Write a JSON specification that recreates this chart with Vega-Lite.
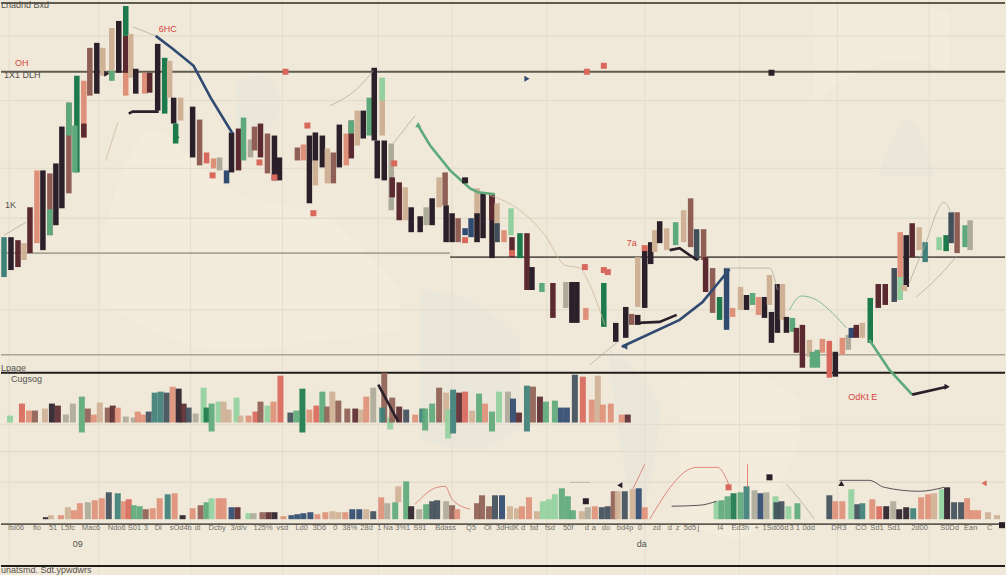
{
  "$schema": "https://vega.github.io/schema/vega-lite/v6.json",
  "description": "Candlestick chart with two volume strips, faded paper background.",
  "width": 1006,
  "height": 575,
  "padding": 0,
  "autosize": {"type": "fit", "contains": "padding"},
  "background": "#f0e9da",
  "config": {"view": {"stroke": null}},
  "datasets": {
    "patches": [
      {"id": "a", "kind": "cream", "t": 100, "low": 275, "high": 335},
      {"id": "a", "kind": "cream", "t": 150, "low": 245, "high": 445},
      {"id": "a", "kind": "cream", "t": 230, "low": 225, "high": 385},
      {"id": "a", "kind": "cream", "t": 330, "low": 235, "high": 355},
      {"id": "a", "kind": "cream", "t": 400, "low": 245, "high": 285},
      {"id": "b", "kind": "shade", "t": 420, "low": 135, "high": 285},
      {"id": "b", "kind": "shade", "t": 470, "low": 125, "high": 275},
      {"id": "b", "kind": "shade", "t": 520, "low": 145, "high": 235},
      {"id": "c", "kind": "cream", "t": 680, "low": 55, "high": 195},
      {"id": "c", "kind": "cream", "t": 740, "low": 35, "high": 205},
      {"id": "c", "kind": "cream", "t": 800, "low": 135, "high": 175},
      {"id": "d", "kind": "cream", "t": 815, "low": 475, "high": 570},
      {"id": "d", "kind": "cream", "t": 900, "low": 515, "high": 570},
      {"id": "d", "kind": "cream", "t": 950, "low": 505, "high": 565},
      {"id": "e", "kind": "shade", "t": 880, "low": 400, "high": 405},
      {"id": "e", "kind": "shade", "t": 910, "low": 400, "high": 455},
      {"id": "e", "kind": "shade", "t": 935, "low": 400, "high": 405},
      {"id": "f", "kind": "shade", "t": 235, "low": 445, "high": 495},
      {"id": "f", "kind": "shade", "t": 262, "low": 445, "high": 500},
      {"id": "f", "kind": "shade", "t": 280, "low": 465, "high": 480},
      {"id": "g", "kind": "shade", "t": 610, "low": 205, "high": 225},
      {"id": "g", "kind": "shade", "t": 640, "low": 60, "high": 200},
      {"id": "g", "kind": "shade", "t": 660, "low": 150, "high": 170}
    ],
    "gridX": [
      {"t": 8}, {"t": 98}, {"t": 190}, {"t": 282}, {"t": 378}, {"t": 452},
      {"t": 547}, {"t": 645}, {"t": 740}, {"t": 838}, {"t": 930}
    ],
    "levels": [
      {"from": 0, "to": 1006, "price": 573, "kind": "mid"},
      {"from": 0, "to": 1006, "price": 540, "kind": "faint"},
      {"from": 0, "to": 1006, "price": 504, "kind": "mid"},
      {"from": 0, "to": 1006, "price": 475, "kind": "faint"},
      {"from": 0, "to": 1006, "price": 407, "kind": "faint"},
      {"from": 0, "to": 1006, "price": 357, "kind": "faint"},
      {"from": 0, "to": 450, "price": 322, "kind": "soft"},
      {"from": 450, "to": 1006, "price": 318, "kind": "mid"},
      {"from": 0, "to": 1006, "price": 265, "kind": "faint"},
      {"from": 0, "to": 1006, "price": 220, "kind": "soft"},
      {"from": 0, "to": 1006, "price": 202, "kind": "heavy"},
      {"from": 0, "to": 1006, "price": 150, "kind": "faint"},
      {"from": 0, "to": 1006, "price": 123, "kind": "faint"},
      {"from": 0, "to": 1006, "price": 92, "kind": "faint"},
      {"from": 0, "to": 1006, "price": 50, "kind": "mid"},
      {"from": 0, "to": 1006, "price": 8, "kind": "heavy"}
    ],
    "volume": [
      {"t": 9, "top": 159, "base": 152, "kind": "ltgreen"},
      {"t": 21, "top": 171, "base": 152, "kind": "red"},
      {"t": 28, "top": 164, "base": 152, "kind": "salmon"},
      {"t": 34, "top": 164, "base": 152, "kind": "brown"},
      {"t": 44, "top": 166, "base": 152, "kind": "tan"},
      {"t": 51, "top": 171, "base": 152, "kind": "dark"},
      {"t": 57, "top": 169, "base": 152, "kind": "maroon"},
      {"t": 65, "top": 160, "base": 152, "kind": "gray"},
      {"t": 72, "top": 171, "base": 152, "kind": "gray"},
      {"t": 81, "top": 178, "base": 142, "kind": "green"},
      {"t": 87, "top": 166, "base": 152, "kind": "brown"},
      {"t": 93, "top": 160, "base": 152, "kind": "salmon"},
      {"t": 99, "top": 172, "base": 152, "kind": "tan"},
      {"t": 107, "top": 167, "base": 152, "kind": "brown"},
      {"t": 112, "top": 169, "base": 152, "kind": "maroon"},
      {"t": 117, "top": 167, "base": 152, "kind": "salmon"},
      {"t": 125, "top": 158, "base": 152, "kind": "gray"},
      {"t": 133, "top": 157, "base": 152, "kind": "gray"},
      {"t": 137, "top": 163, "base": 152, "kind": "salmon"},
      {"t": 142, "top": 160, "base": 152, "kind": "salmon"},
      {"t": 148, "top": 163, "base": 152, "kind": "slate"},
      {"t": 154, "top": 182, "base": 152, "kind": "teal"},
      {"t": 160, "top": 183, "base": 152, "kind": "teal"},
      {"t": 166, "top": 182, "base": 152, "kind": "slate"},
      {"t": 172, "top": 188, "base": 152, "kind": "salmon"},
      {"t": 178, "top": 186, "base": 152, "kind": "dark"},
      {"t": 183, "top": 171, "base": 152, "kind": "maroon"},
      {"t": 188, "top": 167, "base": 152, "kind": "slate"},
      {"t": 195, "top": 161, "base": 152, "kind": "gray"},
      {"t": 203, "top": 187, "base": 152, "kind": "ltgreen"},
      {"t": 206, "top": 167, "base": 152, "kind": "dkgreen"},
      {"t": 211, "top": 171, "base": 143, "kind": "green"},
      {"t": 218, "top": 173, "base": 152, "kind": "ltgreen"},
      {"t": 223, "top": 173, "base": 152, "kind": "tan"},
      {"t": 228, "top": 165, "base": 152, "kind": "tan"},
      {"t": 236, "top": 177, "base": 152, "kind": "ltgreen"},
      {"t": 240, "top": 159, "base": 152, "kind": "tan"},
      {"t": 248, "top": 159, "base": 152, "kind": "salmon"},
      {"t": 255, "top": 163, "base": 152, "kind": "red"},
      {"t": 260, "top": 173, "base": 152, "kind": "brown"},
      {"t": 267, "top": 169, "base": 152, "kind": "ltgreen"},
      {"t": 273, "top": 173, "base": 152, "kind": "salmon"},
      {"t": 280, "top": 199, "base": 152, "kind": "red"},
      {"t": 290, "top": 162, "base": 152, "kind": "slate"},
      {"t": 296, "top": 164, "base": 152, "kind": "green"},
      {"t": 302, "top": 186, "base": 142, "kind": "dkgreen"},
      {"t": 309, "top": 165, "base": 152, "kind": "salmon"},
      {"t": 316, "top": 169, "base": 152, "kind": "red"},
      {"t": 322, "top": 183, "base": 152, "kind": "green"},
      {"t": 327, "top": 168, "base": 152, "kind": "brown"},
      {"t": 332, "top": 183, "base": 152, "kind": "tan"},
      {"t": 338, "top": 174, "base": 152, "kind": "brown"},
      {"t": 347, "top": 166, "base": 152, "kind": "brown"},
      {"t": 355, "top": 166, "base": 152, "kind": "maroon"},
      {"t": 361, "top": 165, "base": 152, "kind": "tan"},
      {"t": 366, "top": 178, "base": 152, "kind": "salmon"},
      {"t": 373, "top": 187, "base": 152, "kind": "gray"},
      {"t": 384, "top": 202, "base": 152, "kind": "brown"},
      {"t": 382, "top": 167, "base": 152, "kind": "teal"},
      {"t": 390, "top": 157, "base": 145, "kind": "ltgreen"},
      {"t": 392, "top": 177, "base": 152, "kind": "brown"},
      {"t": 399, "top": 168, "base": 152, "kind": "maroon"},
      {"t": 406, "top": 165, "base": 152, "kind": "slate"},
      {"t": 415, "top": 160, "base": 152, "kind": "salmon"},
      {"t": 422, "top": 166, "base": 152, "kind": "teal"},
      {"t": 425, "top": 166, "base": 144, "kind": "green"},
      {"t": 432, "top": 171, "base": 152, "kind": "green"},
      {"t": 439, "top": 187, "base": 152, "kind": "brown"},
      {"t": 446, "top": 182, "base": 152, "kind": "tan"},
      {"t": 448, "top": 165, "base": 136, "kind": "ltgreen"},
      {"t": 453, "top": 185, "base": 141, "kind": "teal"},
      {"t": 459, "top": 182, "base": 152, "kind": "maroon"},
      {"t": 465, "top": 183, "base": 152, "kind": "red"},
      {"t": 472, "top": 164, "base": 152, "kind": "tan"},
      {"t": 479, "top": 181, "base": 152, "kind": "green"},
      {"t": 485, "top": 171, "base": 152, "kind": "salmon"},
      {"t": 492, "top": 163, "base": 143, "kind": "green"},
      {"t": 499, "top": 183, "base": 152, "kind": "ltgreen"},
      {"t": 508, "top": 183, "base": 152, "kind": "gray"},
      {"t": 513, "top": 176, "base": 152, "kind": "navy"},
      {"t": 519, "top": 162, "base": 152, "kind": "maroon"},
      {"t": 527, "top": 189, "base": 143, "kind": "teal"},
      {"t": 533, "top": 188, "base": 152, "kind": "brown"},
      {"t": 540, "top": 178, "base": 152, "kind": "maroon"},
      {"t": 546, "top": 173, "base": 152, "kind": "green"},
      {"t": 555, "top": 174, "base": 152, "kind": "green"},
      {"t": 561, "top": 167, "base": 152, "kind": "navy"},
      {"t": 567, "top": 167, "base": 152, "kind": "navy"},
      {"t": 575, "top": 200, "base": 152, "kind": "slate"},
      {"t": 583, "top": 198, "base": 152, "kind": "red"},
      {"t": 592, "top": 175, "base": 152, "kind": "salmon"},
      {"t": 598, "top": 199, "base": 152, "kind": "tan"},
      {"t": 603, "top": 170, "base": 152, "kind": "salmon"},
      {"t": 611, "top": 171, "base": 152, "kind": "salmon"},
      {"t": 622, "top": 160, "base": 152, "kind": "salmon"},
      {"t": 628, "top": 160, "base": 152, "kind": "maroon"},

      {"t": 45, "top": 57, "base": 55, "kind": "dark"},
      {"t": 50, "top": 59, "base": 55, "kind": "tan"},
      {"t": 60, "top": 59, "base": 55, "kind": "salmon"},
      {"t": 67, "top": 67, "base": 55, "kind": "tan"},
      {"t": 73, "top": 64, "base": 55, "kind": "salmon"},
      {"t": 79, "top": 71, "base": 55, "kind": "salmon"},
      {"t": 87, "top": 72, "base": 55, "kind": "gray"},
      {"t": 94, "top": 74, "base": 55, "kind": "salmon"},
      {"t": 101, "top": 76, "base": 55, "kind": "salmon"},
      {"t": 108, "top": 82, "base": 55, "kind": "slate"},
      {"t": 117, "top": 81, "base": 55, "kind": "teal"},
      {"t": 123, "top": 73, "base": 55, "kind": "salmon"},
      {"t": 128, "top": 75, "base": 55, "kind": "red"},
      {"t": 133, "top": 69, "base": 55, "kind": "green"},
      {"t": 139, "top": 68, "base": 55, "kind": "green"},
      {"t": 145, "top": 65, "base": 55, "kind": "brown"},
      {"t": 152, "top": 66, "base": 55, "kind": "salmon"},
      {"t": 159, "top": 76, "base": 55, "kind": "salmon"},
      {"t": 167, "top": 80, "base": 55, "kind": "teal"},
      {"t": 174, "top": 81, "base": 55, "kind": "salmon"},
      {"t": 182, "top": 59, "base": 55, "kind": "dark"},
      {"t": 192, "top": 66, "base": 55, "kind": "salmon"},
      {"t": 200, "top": 69, "base": 55, "kind": "brown"},
      {"t": 206, "top": 72, "base": 55, "kind": "green"},
      {"t": 211, "top": 76, "base": 55, "kind": "ltgreen"},
      {"t": 218, "top": 76, "base": 55, "kind": "salmon"},
      {"t": 223, "top": 76, "base": 55, "kind": "salmon"},
      {"t": 231, "top": 67, "base": 55, "kind": "navy"},
      {"t": 237, "top": 67, "base": 55, "kind": "maroon"},
      {"t": 248, "top": 61, "base": 55, "kind": "ltgreen"},
      {"t": 253, "top": 61, "base": 55, "kind": "gray"},
      {"t": 262, "top": 62, "base": 55, "kind": "brown"},
      {"t": 268, "top": 62, "base": 55, "kind": "maroon"},
      {"t": 274, "top": 62, "base": 55, "kind": "dark"},
      {"t": 283, "top": 58, "base": 55, "kind": "salmon"},
      {"t": 291, "top": 59, "base": 55, "kind": "navy"},
      {"t": 297, "top": 60, "base": 55, "kind": "navy"},
      {"t": 303, "top": 61, "base": 55, "kind": "navy"},
      {"t": 310, "top": 62, "base": 55, "kind": "navy"},
      {"t": 317, "top": 60, "base": 55, "kind": "salmon"},
      {"t": 325, "top": 62, "base": 55, "kind": "salmon"},
      {"t": 332, "top": 63, "base": 55, "kind": "tan"},
      {"t": 338, "top": 62, "base": 55, "kind": "tan"},
      {"t": 345, "top": 62, "base": 55, "kind": "salmon"},
      {"t": 352, "top": 65, "base": 55, "kind": "navy"},
      {"t": 359, "top": 65, "base": 55, "kind": "navy"},
      {"t": 366, "top": 65, "base": 55, "kind": "tan"},
      {"t": 373, "top": 63, "base": 55, "kind": "slate"},
      {"t": 381, "top": 77, "base": 55, "kind": "salmon"},
      {"t": 387, "top": 71, "base": 55, "kind": "gray"},
      {"t": 395, "top": 72, "base": 55, "kind": "green"},
      {"t": 398, "top": 88, "base": 72, "kind": "tan"},
      {"t": 406, "top": 93, "base": 55, "kind": "green"},
      {"t": 411, "top": 68, "base": 55, "kind": "dark"},
      {"t": 419, "top": 65, "base": 55, "kind": "gray"},
      {"t": 426, "top": 70, "base": 55, "kind": "green"},
      {"t": 432, "top": 73, "base": 55, "kind": "slate"},
      {"t": 437, "top": 74, "base": 55, "kind": "slate"},
      {"t": 446, "top": 73, "base": 55, "kind": "gray"},
      {"t": 452, "top": 69, "base": 55, "kind": "brown"},
      {"t": 457, "top": 65, "base": 55, "kind": "salmon"},
      {"t": 477, "top": 71, "base": 55, "kind": "brown"},
      {"t": 482, "top": 79, "base": 55, "kind": "brown"},
      {"t": 489, "top": 68, "base": 55, "kind": "brown"},
      {"t": 495, "top": 79, "base": 55, "kind": "slate"},
      {"t": 502, "top": 79, "base": 55, "kind": "navy"},
      {"t": 510, "top": 68, "base": 55, "kind": "tan"},
      {"t": 517, "top": 66, "base": 55, "kind": "tan"},
      {"t": 522, "top": 68, "base": 55, "kind": "salmon"},
      {"t": 529, "top": 77, "base": 55, "kind": "salmon"},
      {"t": 537, "top": 63, "base": 55, "kind": "tan"},
      {"t": 543, "top": 73, "base": 55, "kind": "ltgreen"},
      {"t": 549, "top": 75, "base": 55, "kind": "ltgreen"},
      {"t": 555, "top": 80, "base": 55, "kind": "ltgreen"},
      {"t": 562, "top": 86, "base": 55, "kind": "green"},
      {"t": 568, "top": 78, "base": 55, "kind": "green"},
      {"t": 573, "top": 64, "base": 55, "kind": "green"},
      {"t": 582, "top": 63, "base": 55, "kind": "tan"},
      {"t": 588, "top": 67, "base": 55, "kind": "gray"},
      {"t": 595, "top": 68, "base": 55, "kind": "salmon"},
      {"t": 602, "top": 67, "base": 55, "kind": "slate"},
      {"t": 608, "top": 68, "base": 55, "kind": "slate"},
      {"t": 614, "top": 83, "base": 55, "kind": "brown"},
      {"t": 618, "top": 83, "base": 55, "kind": "tan"},
      {"t": 625, "top": 83, "base": 55, "kind": "slate"},
      {"t": 633, "top": 85, "base": 55, "kind": "tan"},
      {"t": 639, "top": 86, "base": 55, "kind": "navy"},
      {"t": 645, "top": 67, "base": 55, "kind": "salmon"},
      {"t": 717, "top": 73, "base": 55, "kind": "ltgreen"},
      {"t": 722, "top": 74, "base": 55, "kind": "green"},
      {"t": 728, "top": 78, "base": 55, "kind": "green"},
      {"t": 734, "top": 81, "base": 55, "kind": "dkgreen"},
      {"t": 741, "top": 82, "base": 55, "kind": "green"},
      {"t": 747, "top": 88, "base": 55, "kind": "teal"},
      {"t": 755, "top": 84, "base": 55, "kind": "gray"},
      {"t": 761, "top": 81, "base": 55, "kind": "navy"},
      {"t": 767, "top": 82, "base": 55, "kind": "gray"},
      {"t": 776, "top": 78, "base": 55, "kind": "ltgreen"},
      {"t": 777, "top": 72, "base": 55, "kind": "slate"},
      {"t": 782, "top": 73, "base": 55, "kind": "slate"},
      {"t": 789, "top": 68, "base": 55, "kind": "ltgreen"},
      {"t": 798, "top": 71, "base": 55, "kind": "green"},
      {"t": 830, "top": 79, "base": 55, "kind": "slate"},
      {"t": 836, "top": 73, "base": 55, "kind": "salmon"},
      {"t": 843, "top": 73, "base": 55, "kind": "salmon"},
      {"t": 852, "top": 85, "base": 55, "kind": "ltgreen"},
      {"t": 858, "top": 70, "base": 55, "kind": "slate"},
      {"t": 863, "top": 71, "base": 55, "kind": "teal"},
      {"t": 873, "top": 75, "base": 55, "kind": "salmon"},
      {"t": 880, "top": 68, "base": 55, "kind": "red"},
      {"t": 887, "top": 68, "base": 55, "kind": "dark"},
      {"t": 894, "top": 73, "base": 55, "kind": "gray"},
      {"t": 900, "top": 65, "base": 55, "kind": "dark"},
      {"t": 907, "top": 67, "base": 55, "kind": "dark"},
      {"t": 914, "top": 66, "base": 55, "kind": "teal"},
      {"t": 922, "top": 77, "base": 55, "kind": "salmon"},
      {"t": 929, "top": 80, "base": 55, "kind": "salmon"},
      {"t": 935, "top": 81, "base": 55, "kind": "tan"},
      {"t": 943, "top": 85, "base": 55, "kind": "ltgreen"},
      {"t": 948, "top": 87, "base": 55, "kind": "dark"},
      {"t": 955, "top": 72, "base": 55, "kind": "slate"},
      {"t": 962, "top": 72, "base": 55, "kind": "slate"},
      {"t": 968, "top": 76, "base": 55, "kind": "salmon"},
      {"t": 973, "top": 64, "base": 55, "kind": "salmon"},
      {"t": 979, "top": 64, "base": 55, "kind": "salmon"},
      {"t": 989, "top": 62, "base": 55, "kind": "tan"},
      {"t": 998, "top": 59, "base": 55, "kind": "tan"}
    ],
    "candles": [
      {"t": 3, "low": 298, "high": 338, "kind": "teal"},
      {"t": 10, "low": 305, "high": 338, "kind": "dark"},
      {"t": 17, "low": 308, "high": 335, "kind": "maroon"},
      {"t": 23, "low": 315, "high": 332, "kind": "tan"},
      {"t": 29, "low": 322, "high": 368, "kind": "maroon"},
      {"t": 36, "low": 332, "high": 405, "kind": "salmon"},
      {"t": 42, "low": 325, "high": 405, "kind": "dark"},
      {"t": 49, "low": 340, "high": 402, "kind": "brown"},
      {"t": 49, "low": 340, "high": 366, "kind": "green"},
      {"t": 55, "low": 350, "high": 412, "kind": "dark"},
      {"t": 61, "low": 367, "high": 449, "kind": "dark"},
      {"t": 68, "low": 382, "high": 473, "kind": "brown"},
      {"t": 68, "low": 440, "high": 473, "kind": "green"},
      {"t": 76, "low": 403, "high": 500, "kind": "dkgreen"},
      {"t": 74, "low": 403, "high": 450, "kind": "green"},
      {"t": 83, "low": 438, "high": 495, "kind": "salmon"},
      {"t": 83, "low": 438, "high": 452, "kind": "maroon"},
      {"t": 89, "low": 480, "high": 528, "kind": "brown"},
      {"t": 96, "low": 482, "high": 533, "kind": "dark"},
      {"t": 102, "low": 500, "high": 528, "kind": "tan"},
      {"t": 111, "low": 495, "high": 548, "kind": "tan"},
      {"t": 111, "low": 495, "high": 505, "kind": "green"},
      {"t": 118, "low": 503, "high": 555, "kind": "dark"},
      {"t": 125, "low": 480, "high": 503, "kind": "salmon"},
      {"t": 125, "low": 503, "high": 540, "kind": "maroon"},
      {"t": 125, "low": 540, "high": 570, "kind": "dkgreen"},
      {"t": 130, "low": 498, "high": 542, "kind": "tan"},
      {"t": 135, "low": 482, "high": 507, "kind": "dark"},
      {"t": 144, "low": 482, "high": 503, "kind": "salmon"},
      {"t": 149, "low": 483, "high": 503, "kind": "maroon"},
      {"t": 157, "low": 465, "high": 532, "kind": "dark"},
      {"t": 164, "low": 462, "high": 518, "kind": "dkgreen"},
      {"t": 169, "low": 478, "high": 515, "kind": "tan"},
      {"t": 173, "low": 452, "high": 478, "kind": "dark"},
      {"t": 180, "low": 455, "high": 478, "kind": "tan"},
      {"t": 175, "low": 432, "high": 452, "kind": "dkgreen"},
      {"t": 192, "low": 418, "high": 469, "kind": "dark"},
      {"t": 199, "low": 410, "high": 456, "kind": "brown"},
      {"t": 206, "low": 412, "high": 423, "kind": "red"},
      {"t": 213, "low": 407, "high": 417, "kind": "salmon"},
      {"t": 219, "low": 405, "high": 418, "kind": "gray"},
      {"t": 226, "low": 392, "high": 405, "kind": "navy"},
      {"t": 231, "low": 403, "high": 443, "kind": "dark"},
      {"t": 238, "low": 405, "high": 447, "kind": "maroon"},
      {"t": 243, "low": 415, "high": 458, "kind": "green"},
      {"t": 250, "low": 418, "high": 436, "kind": "gray"},
      {"t": 254, "low": 425, "high": 449, "kind": "brown"},
      {"t": 260, "low": 418, "high": 452, "kind": "maroon"},
      {"t": 267, "low": 402, "high": 442, "kind": "brown"},
      {"t": 274, "low": 395, "high": 440, "kind": "dark"},
      {"t": 279, "low": 395, "high": 418, "kind": "dark"},
      {"t": 297, "low": 415, "high": 428, "kind": "brown"},
      {"t": 303, "low": 415, "high": 431, "kind": "salmon"},
      {"t": 309, "low": 372, "high": 440, "kind": "dark"},
      {"t": 315, "low": 390, "high": 443, "kind": "tan"},
      {"t": 315, "low": 415, "high": 443, "kind": "dark"},
      {"t": 322, "low": 408, "high": 440, "kind": "dark"},
      {"t": 327, "low": 392, "high": 427, "kind": "tan"},
      {"t": 333, "low": 392, "high": 423, "kind": "brown"},
      {"t": 339, "low": 408, "high": 451, "kind": "dark"},
      {"t": 346, "low": 410, "high": 442, "kind": "salmon"},
      {"t": 351, "low": 417, "high": 455, "kind": "maroon"},
      {"t": 351, "low": 442, "high": 455, "kind": "green"},
      {"t": 357, "low": 430, "high": 465, "kind": "tan"},
      {"t": 363, "low": 437, "high": 465, "kind": "dark"},
      {"t": 369, "low": 440, "high": 478, "kind": "green"},
      {"t": 374, "low": 435, "high": 508, "kind": "dark"},
      {"t": 382, "low": 440, "high": 498, "kind": "tan"},
      {"t": 382, "low": 475, "high": 498, "kind": "ltgreen"},
      {"t": 377, "low": 397, "high": 435, "kind": "dark"},
      {"t": 384, "low": 395, "high": 435, "kind": "dark"},
      {"t": 391, "low": 365, "high": 432, "kind": "gray"},
      {"t": 392, "low": 378, "high": 398, "kind": "maroon"},
      {"t": 399, "low": 355, "high": 393, "kind": "maroon"},
      {"t": 405, "low": 355, "high": 388, "kind": "tan"},
      {"t": 411, "low": 343, "high": 368, "kind": "dark"},
      {"t": 420, "low": 343, "high": 359, "kind": "dark"},
      {"t": 426, "low": 350, "high": 368, "kind": "gray"},
      {"t": 432, "low": 350, "high": 377, "kind": "dark"},
      {"t": 439, "low": 368, "high": 398, "kind": "tan"},
      {"t": 445, "low": 370, "high": 403, "kind": "brown"},
      {"t": 446, "low": 333, "high": 370, "kind": "dark"},
      {"t": 452, "low": 333, "high": 362, "kind": "dark"},
      {"t": 458, "low": 333, "high": 357, "kind": "brown"},
      {"t": 465, "low": 340, "high": 347, "kind": "navy"},
      {"t": 471, "low": 338, "high": 357, "kind": "navy"},
      {"t": 477, "low": 333, "high": 387, "kind": "tan"},
      {"t": 477, "low": 333, "high": 362, "kind": "dark"},
      {"t": 483, "low": 337, "high": 383, "kind": "dark"},
      {"t": 492, "low": 317, "high": 382, "kind": "dark"},
      {"t": 492, "low": 355, "high": 382, "kind": "maroon"},
      {"t": 497, "low": 333, "high": 372, "kind": "tan"},
      {"t": 497, "low": 333, "high": 352, "kind": "slate"},
      {"t": 504, "low": 333, "high": 345, "kind": "salmon"},
      {"t": 511, "low": 340, "high": 367, "kind": "ltgreen"},
      {"t": 512, "low": 318, "high": 338, "kind": "maroon"},
      {"t": 520, "low": 317, "high": 342, "kind": "dkgreen"},
      {"t": 527, "low": 285, "high": 342, "kind": "maroon"},
      {"t": 532, "low": 285, "high": 308, "kind": "dark"},
      {"t": 542, "low": 283, "high": 292, "kind": "green"},
      {"t": 553, "low": 257, "high": 292, "kind": "maroon"},
      {"t": 566, "low": 267, "high": 293, "kind": "gray"},
      {"t": 572, "low": 252, "high": 293, "kind": "dark"},
      {"t": 577, "low": 252, "high": 293, "kind": "dark"},
      {"t": 586, "low": 255, "high": 267, "kind": "salmon"},
      {"t": 604, "low": 248, "high": 292, "kind": "dkgreen"},
      {"t": 616, "low": 233, "high": 252, "kind": "dark"},
      {"t": 626, "low": 237, "high": 268, "kind": "dark"},
      {"t": 632, "low": 250, "high": 261, "kind": "brown"},
      {"t": 638, "low": 250, "high": 260, "kind": "dark"},
      {"t": 638, "low": 268, "high": 318, "kind": "tan"},
      {"t": 645, "low": 267, "high": 325, "kind": "dark"},
      {"t": 651, "low": 311, "high": 333, "kind": "dark"},
      {"t": 655, "low": 323, "high": 345, "kind": "tan"},
      {"t": 660, "low": 332, "high": 354, "kind": "dark"},
      {"t": 667, "low": 325, "high": 347, "kind": "tan"},
      {"t": 676, "low": 330, "high": 353, "kind": "green"},
      {"t": 684, "low": 333, "high": 365, "kind": "tan"},
      {"t": 691, "low": 328, "high": 377, "kind": "brown"},
      {"t": 697, "low": 315, "high": 346, "kind": "slate"},
      {"t": 704, "low": 315, "high": 346, "kind": "brown"},
      {"t": 706, "low": 283, "high": 318, "kind": "maroon"},
      {"t": 713, "low": 262, "high": 307, "kind": "brown"},
      {"t": 720, "low": 255, "high": 278, "kind": "dkgreen"},
      {"t": 727, "low": 245, "high": 307, "kind": "navy"},
      {"t": 733, "low": 258, "high": 267, "kind": "salmon"},
      {"t": 741, "low": 265, "high": 288, "kind": "tan"},
      {"t": 747, "low": 265, "high": 280, "kind": "dark"},
      {"t": 753, "low": 270, "high": 282, "kind": "green"},
      {"t": 759, "low": 260, "high": 278, "kind": "salmon"},
      {"t": 765, "low": 257, "high": 278, "kind": "dark"},
      {"t": 770, "low": 270, "high": 300, "kind": "tan"},
      {"t": 772, "low": 232, "high": 263, "kind": "dark"},
      {"t": 778, "low": 242, "high": 291, "kind": "dark"},
      {"t": 783, "low": 255, "high": 291, "kind": "tan"},
      {"t": 787, "low": 242, "high": 258, "kind": "dark"},
      {"t": 793, "low": 243, "high": 257, "kind": "green"},
      {"t": 797, "low": 222, "high": 247, "kind": "maroon"},
      {"t": 803, "low": 207, "high": 250, "kind": "maroon"},
      {"t": 810, "low": 218, "high": 235, "kind": "tan"},
      {"t": 813, "low": 207, "high": 223, "kind": "green"},
      {"t": 818, "low": 207, "high": 225, "kind": "green"},
      {"t": 823, "low": 222, "high": 236, "kind": "salmon"},
      {"t": 830, "low": 197, "high": 234, "kind": "red"},
      {"t": 836, "low": 198, "high": 223, "kind": "dark"},
      {"t": 843, "low": 220, "high": 237, "kind": "salmon"},
      {"t": 849, "low": 225, "high": 240, "kind": "gray"},
      {"t": 852, "low": 237, "high": 247, "kind": "navy"},
      {"t": 857, "low": 237, "high": 250, "kind": "maroon"},
      {"t": 863, "low": 237, "high": 252, "kind": "tan"},
      {"t": 871, "low": 232, "high": 277, "kind": "dkgreen"},
      {"t": 879, "low": 267, "high": 291, "kind": "maroon"},
      {"t": 886, "low": 270, "high": 291, "kind": "maroon"},
      {"t": 895, "low": 273, "high": 307, "kind": "slate"},
      {"t": 901, "low": 275, "high": 343, "kind": "salmon"},
      {"t": 901, "low": 275, "high": 298, "kind": "ltgreen"},
      {"t": 907, "low": 288, "high": 340, "kind": "dark"},
      {"t": 913, "low": 318, "high": 352, "kind": "maroon"},
      {"t": 920, "low": 325, "high": 348, "kind": "tan"},
      {"t": 926, "low": 313, "high": 333, "kind": "teal"},
      {"t": 940, "low": 325, "high": 338, "kind": "ltgreen"},
      {"t": 947, "low": 324, "high": 340, "kind": "dkgreen"},
      {"t": 952, "low": 332, "high": 363, "kind": "slate"},
      {"t": 958, "low": 322, "high": 363, "kind": "brown"},
      {"t": 966, "low": 328, "high": 350, "kind": "green"},
      {"t": 971, "low": 325, "high": 355, "kind": "gray"}
    ],
    "thick": [
      {"id": "n1", "kind": "navy", "t": 155, "price": 540},
      {"id": "n1", "kind": "navy", "t": 172, "price": 527},
      {"id": "n1", "kind": "navy", "t": 193, "price": 510},
      {"id": "n1", "kind": "navy", "t": 210, "price": 478},
      {"id": "n1", "kind": "navy", "t": 232, "price": 442},
      {"id": "n2", "kind": "navy", "t": 622, "price": 228},
      {"id": "n2", "kind": "navy", "t": 680, "price": 255},
      {"id": "n2", "kind": "navy", "t": 703, "price": 273},
      {"id": "n2", "kind": "navy", "t": 717, "price": 290},
      {"id": "n2", "kind": "navy", "t": 730, "price": 306},
      {"id": "g1", "kind": "green", "t": 418, "price": 450},
      {"id": "g1", "kind": "green", "t": 430, "price": 430},
      {"id": "g1", "kind": "green", "t": 450, "price": 405},
      {"id": "g1", "kind": "green", "t": 470, "price": 387},
      {"id": "g1", "kind": "green", "t": 478, "price": 383},
      {"id": "g1", "kind": "green", "t": 495, "price": 381},
      {"id": "g2", "kind": "green", "t": 870, "price": 235},
      {"id": "g2", "kind": "green", "t": 890, "price": 205},
      {"id": "g2", "kind": "green", "t": 913, "price": 180},
      {"id": "k1", "kind": "dark", "t": 913, "price": 180},
      {"id": "k1", "kind": "dark", "t": 948, "price": 188},
      {"id": "k2", "kind": "dark", "t": 638, "price": 252},
      {"id": "k2", "kind": "dark", "t": 660, "price": 253},
      {"id": "k2", "kind": "dark", "t": 677, "price": 260},
      {"id": "k3", "kind": "dark", "t": 670, "price": 325},
      {"id": "k3", "kind": "dark", "t": 680, "price": 327},
      {"id": "k3", "kind": "dark", "t": 690, "price": 320},
      {"id": "k3", "kind": "dark", "t": 698, "price": 315},
      {"id": "k4", "kind": "dark", "t": 128, "price": 462},
      {"id": "k4", "kind": "dark", "t": 132, "price": 464},
      {"id": "k4", "kind": "dark", "t": 158, "price": 464},
      {"id": "k5", "kind": "dark", "t": 378, "price": 190},
      {"id": "k5", "kind": "dark", "t": 398, "price": 153}
    ],
    "thin": [
      {"id": "s1", "kind": "tan", "t": 490, "price": 380},
      {"id": "s1", "kind": "tan", "t": 520, "price": 365},
      {"id": "s1", "kind": "tan", "t": 545, "price": 340},
      {"id": "s1", "kind": "tan", "t": 565, "price": 310},
      {"id": "s1", "kind": "tan", "t": 580, "price": 307},
      {"id": "s1", "kind": "tan", "t": 590, "price": 290},
      {"id": "s1", "kind": "tan", "t": 605, "price": 250},
      {"id": "s2", "kind": "tan", "t": 105, "price": 415},
      {"id": "s2", "kind": "tan", "t": 117, "price": 453},
      {"id": "s3", "kind": "gray", "t": 330, "price": 470},
      {"id": "s3", "kind": "gray", "t": 360, "price": 490},
      {"id": "s3", "kind": "gray", "t": 373, "price": 505},
      {"id": "s4", "kind": "gray", "t": 393, "price": 432},
      {"id": "s4", "kind": "gray", "t": 415, "price": 460},
      {"id": "s5", "kind": "gray", "t": 132, "price": 549},
      {"id": "s5", "kind": "gray", "t": 155, "price": 540},
      {"id": "s6", "kind": "gray", "t": 3, "price": 340},
      {"id": "s6", "kind": "gray", "t": 25, "price": 353},
      {"id": "s7", "kind": "gray", "t": 910, "price": 292},
      {"id": "s7", "kind": "gray", "t": 925, "price": 328},
      {"id": "s7", "kind": "gray", "t": 945, "price": 373},
      {"id": "s7", "kind": "gray", "t": 952, "price": 362},
      {"id": "s8", "kind": "gray", "t": 917, "price": 278},
      {"id": "s8", "kind": "gray", "t": 933, "price": 292},
      {"id": "s8", "kind": "gray", "t": 957, "price": 318},
      {"id": "s9", "kind": "green", "t": 790, "price": 265},
      {"id": "s9", "kind": "green", "t": 802, "price": 279},
      {"id": "s9", "kind": "green", "t": 817, "price": 275},
      {"id": "s9", "kind": "green", "t": 833, "price": 262},
      {"id": "s9", "kind": "green", "t": 847, "price": 247},
      {"id": "s10", "kind": "gray", "t": 725, "price": 307},
      {"id": "s10", "kind": "gray", "t": 770, "price": 307},
      {"id": "s10", "kind": "gray", "t": 778, "price": 285},
      {"id": "s11", "kind": "gray", "t": 590, "price": 210},
      {"id": "s11", "kind": "gray", "t": 618, "price": 233},
      {"id": "r1", "kind": "red", "t": 650, "price": 55},
      {"id": "r1", "kind": "red", "t": 697, "price": 107},
      {"id": "r1", "kind": "red", "t": 718, "price": 107},
      {"id": "r1", "kind": "red", "t": 730, "price": 88},
      {"id": "r2", "kind": "red", "t": 748, "price": 110},
      {"id": "r2", "kind": "red", "t": 748, "price": 87},
      {"id": "r3", "kind": "red", "t": 415, "price": 70},
      {"id": "r3", "kind": "red", "t": 437, "price": 87},
      {"id": "r3", "kind": "red", "t": 445, "price": 88},
      {"id": "r3", "kind": "red", "t": 452, "price": 75},
      {"id": "r3", "kind": "red", "t": 470, "price": 65},
      {"id": "r4", "kind": "red", "t": 633, "price": 85},
      {"id": "r4", "kind": "red", "t": 645, "price": 110},
      {"id": "b1", "kind": "dark", "t": 672, "price": 68},
      {"id": "b1", "kind": "dark", "t": 700, "price": 69},
      {"id": "b1", "kind": "dark", "t": 717, "price": 73},
      {"id": "b2", "kind": "dark", "t": 840, "price": 94},
      {"id": "b2", "kind": "dark", "t": 870, "price": 94},
      {"id": "b2", "kind": "dark", "t": 885, "price": 87},
      {"id": "b2", "kind": "dark", "t": 920, "price": 83},
      {"id": "b2", "kind": "dark", "t": 945, "price": 87},
      {"id": "b3", "kind": "gray", "t": 787, "price": 90},
      {"id": "b3", "kind": "gray", "t": 800, "price": 75},
      {"id": "b3", "kind": "gray", "t": 815, "price": 55},
      {"id": "b4", "kind": "gray", "t": 570, "price": 92},
      {"id": "b4", "kind": "gray", "t": 590, "price": 92}
    ],
    "flags": [
      {"t": 625, "price": 228, "kind": "navy", "dir": "left"},
      {"t": 948, "price": 188, "kind": "dark", "dir": "right"},
      {"t": 985, "price": 91, "kind": "red", "dir": "left"},
      {"t": 418, "price": 451, "kind": "green", "dir": "up"},
      {"t": 106, "price": 502, "kind": "dark", "dir": "right"},
      {"t": 176, "price": 440, "kind": "dkgreen", "dir": "up"},
      {"t": 285, "price": 504, "kind": "red", "dir": "square"},
      {"t": 527, "price": 497, "kind": "navy", "dir": "right"},
      {"t": 587, "price": 504, "kind": "red", "dir": "square"},
      {"t": 604, "price": 510, "kind": "red", "dir": "square"},
      {"t": 772, "price": 503, "kind": "dark", "dir": "square"},
      {"t": 307, "price": 450, "kind": "red", "dir": "square"},
      {"t": 259, "price": 413, "kind": "red", "dir": "square"},
      {"t": 274, "price": 398, "kind": "red", "dir": "square"},
      {"t": 313, "price": 362, "kind": "red", "dir": "square"},
      {"t": 212, "price": 400, "kind": "red", "dir": "square"},
      {"t": 394, "price": 412, "kind": "red", "dir": "square"},
      {"t": 465, "price": 395, "kind": "dark", "dir": "square"},
      {"t": 465, "price": 335, "kind": "red", "dir": "square"},
      {"t": 512, "price": 322, "kind": "red", "dir": "square"},
      {"t": 604, "price": 305, "kind": "red", "dir": "square"},
      {"t": 608, "price": 303, "kind": "red", "dir": "square"},
      {"t": 645, "price": 327, "kind": "red", "dir": "square"},
      {"t": 905, "price": 287, "kind": "tan", "dir": "square"},
      {"t": 585, "price": 308, "kind": "red", "dir": "square"},
      {"t": 770, "price": 97, "kind": "dark", "dir": "square"},
      {"t": 586, "price": 73, "kind": "dark", "dir": "square"},
      {"t": 620, "price": 89, "kind": "dark", "dir": "left"},
      {"t": 729, "price": 87, "kind": "red", "dir": "square"},
      {"t": 842, "price": 91, "kind": "dark", "dir": "up"},
      {"t": 1003, "price": 49, "kind": "dark", "dir": "square"}
    ],
    "notes": [
      {"t": 0, "price": 571, "text": "Lnadnd Bxd", "kind": "plain"},
      {"t": 158, "price": 547, "text": "6HC", "kind": "alert"},
      {"t": 14, "price": 513, "text": "OH", "kind": "alert"},
      {"t": 3, "price": 501, "text": "1X1 DLH", "kind": "plain"},
      {"t": 4, "price": 370, "text": "1K", "kind": "plain"},
      {"t": 627, "price": 332, "text": "7a", "kind": "alert"},
      {"t": 849, "price": 178, "text": "OdKt E", "kind": "alert"},
      {"t": 0, "price": 207, "text": "Lpage", "kind": "plain"},
      {"t": 10, "price": 196, "text": "Cugsog", "kind": "plain"},
      {"t": 72, "price": 30, "text": "09", "kind": "plain"},
      {"t": 637, "price": 30, "text": "da", "kind": "plain"},
      {"t": 0, "price": 4, "text": "unatsmd. Sdt.ypwdwrs", "kind": "plain"}
    ],
    "ticks": [
      {"t": 7, "text": "Ibl06"}, {"t": 32, "text": "flo"}, {"t": 48, "text": "51"},
      {"t": 60, "text": "L5fc"}, {"t": 81, "text": "Mac6"}, {"t": 107, "text": "Ndo6"},
      {"t": 127, "text": "S01"}, {"t": 143, "text": "3"}, {"t": 154, "text": "Dl"},
      {"t": 169, "text": "sOd4b"}, {"t": 194, "text": "dl"}, {"t": 208, "text": "Dcby"},
      {"t": 230, "text": "3/d/v"}, {"t": 253, "text": "125%"}, {"t": 276, "text": "vsd"},
      {"t": 295, "text": "Ld0"}, {"t": 312, "text": "3D6"}, {"t": 333, "text": "0"},
      {"t": 342, "text": "38%"}, {"t": 360, "text": "28d"}, {"t": 377, "text": "1"},
      {"t": 383, "text": "Na"}, {"t": 395, "text": "3%1"}, {"t": 413, "text": "S91"},
      {"t": 435, "text": "Bdass"}, {"t": 466, "text": "Q5"}, {"t": 484, "text": "Ol"},
      {"t": 496, "text": "3dHdK"}, {"t": 521, "text": "d"}, {"t": 530, "text": "bd"},
      {"t": 545, "text": "fsd"}, {"t": 563, "text": "50f"}, {"t": 585, "text": "d"},
      {"t": 592, "text": "a"}, {"t": 602, "text": "do"}, {"t": 617, "text": "bd4p"},
      {"t": 638, "text": "0"}, {"t": 653, "text": "zd"}, {"t": 668, "text": "d"},
      {"t": 676, "text": "z"}, {"t": 684, "text": "5d5"}, {"t": 698, "text": "j"},
      {"t": 718, "text": "l4"}, {"t": 732, "text": "Ed3h"}, {"t": 755, "text": "+"},
      {"t": 763, "text": "1Sd06d"}, {"t": 790, "text": "3 1"}, {"t": 803, "text": "0dd"},
      {"t": 832, "text": "DR3"}, {"t": 856, "text": "CO"}, {"t": 871, "text": "Sd1"},
      {"t": 888, "text": "Sd1"}, {"t": 912, "text": "2d00"}, {"t": 941, "text": "S0Dd"},
      {"t": 965, "text": "Ean"}, {"t": 988, "text": "C"}
    ]
  },
  "encoding": {
    "x": {"field": "t", "type": "quantitative", "scale": {"domain": [0, 1006], "nice": false, "zero": false}, "axis": null},
    "color": {
      "field": "kind",
      "type": "nominal",
      "legend": null,
      "scale": {
        "domain": ["dark", "maroon", "brown", "salmon", "red", "tan", "gray", "green", "ltgreen", "dkgreen", "slate", "navy", "teal", "cream", "shade", "heavy", "mid", "soft", "faint", "plain", "alert"],
        "range": ["#2b1f29", "#5b2a30", "#8f5f55", "#df9078", "#d9685c", "#cfb196", "#aeaa9a", "#5ea97b", "#93d09f", "#1c7a4d", "#414f5b", "#304a70", "#3f8079", "#f5eddd", "#e8e5da", "#1f1c1a", "#5f5a52", "#a8a499", "#e3ddce", "#55524c", "#d6463c"]
      }
    }
  },
  "layer": [
    {
      "data": {"name": "patches"},
      "mark": {"type": "area", "interpolate": "monotone", "opacity": 0.6},
      "encoding": {
        "y": {"field": "low", "type": "quantitative", "scale": {"domain": [0, 575], "nice": false, "zero": false}, "axis": null},
        "y2": {"field": "high"},
        "detail": {"field": "id"}
      }
    },
    {
      "data": {"name": "gridX"},
      "mark": {"type": "rule", "strokeWidth": 1},
      "encoding": {
        "color": {"value": "#e3ddce"}
      }
    },
    {
      "data": {"name": "levels"},
      "mark": {"type": "rule"},
      "encoding": {
        "x": {"field": "from", "type": "quantitative"},
        "x2": {"field": "to"},
        "y": {"field": "price", "type": "quantitative"},
        "size": {
          "field": "kind",
          "type": "nominal",
          "legend": null,
          "scale": {"domain": ["heavy", "mid", "soft", "faint"], "range": [2, 1.4, 1, 1]}
        }
      }
    },
    {
      "data": {"name": "volume"},
      "mark": {"type": "rule", "strokeWidth": 6, "opacity": 0.92},
      "encoding": {
        "y": {"field": "top", "type": "quantitative"},
        "y2": {"field": "base"}
      }
    },
    {
      "data": {"name": "candles"},
      "mark": {"type": "rule", "strokeWidth": 5.5},
      "encoding": {
        "y": {"field": "low", "type": "quantitative"},
        "y2": {"field": "high"}
      }
    },
    {
      "data": {"name": "thin"},
      "mark": {"type": "line", "strokeWidth": 1, "opacity": 0.75, "interpolate": "monotone"},
      "encoding": {
        "y": {"field": "price", "type": "quantitative"},
        "detail": {"field": "id"},
        "order": {"value": 0}
      }
    },
    {
      "data": {"name": "thick"},
      "mark": {"type": "line", "strokeWidth": 2.6},
      "encoding": {
        "y": {"field": "price", "type": "quantitative"},
        "detail": {"field": "id"},
        "order": {"value": 0}
      }
    },
    {
      "data": {"name": "flags"},
      "mark": {"type": "point", "filled": true, "size": 36, "opacity": 1},
      "encoding": {
        "y": {"field": "price", "type": "quantitative"},
        "shape": {
          "field": "dir",
          "type": "nominal",
          "legend": null,
          "scale": {"domain": ["left", "right", "up", "square"], "range": ["triangle-left", "triangle-right", "triangle-up", "square"]}
        }
      }
    },
    {
      "data": {"name": "notes"},
      "mark": {"type": "text", "align": "left", "baseline": "middle", "font": "Liberation Sans", "fontSize": 9},
      "encoding": {
        "y": {"field": "price", "type": "quantitative"},
        "text": {"field": "text"}
      }
    },
    {
      "data": {"name": "ticks"},
      "mark": {"type": "text", "align": "left", "baseline": "middle", "font": "Liberation Sans", "fontSize": 7.5, "opacity": 0.8},
      "encoding": {
        "y": {"datum": 46, "type": "quantitative"},
        "text": {"field": "text"},
        "color": {"value": "#55524c"}
      }
    }
  ]
}
